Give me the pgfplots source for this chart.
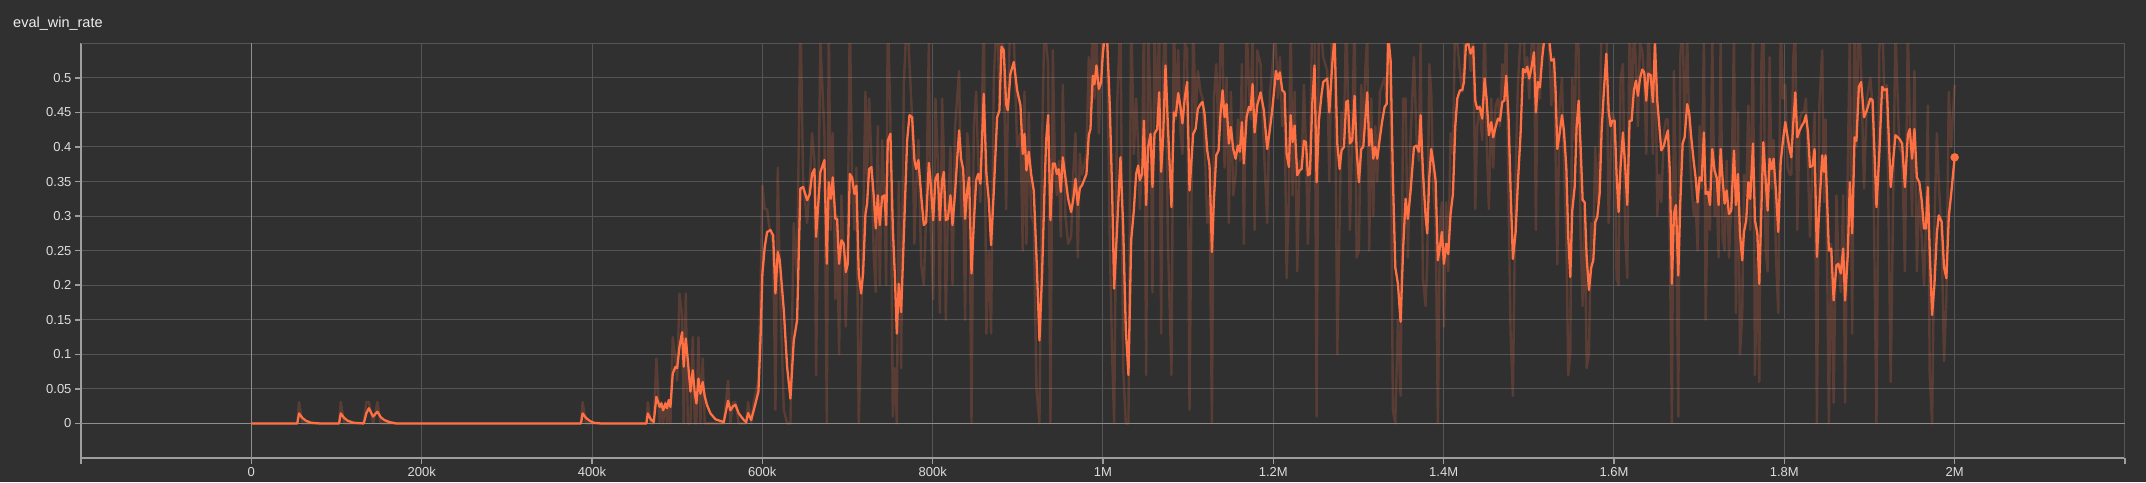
\documentclass[border=0pt]{standalone}
\usepackage{fontspec}
\setmainfont{Liberation Sans}
\usepackage{pgfplots}
\usepackage{pgfplotstable}
\pgfplotsset{compat=1.18}
\definecolor{bgc}{HTML}{303030}
\definecolor{gridc}{HTML}{555555}
\definecolor{axc}{HTML}{9E9E9E}
\definecolor{zeroc}{HTML}{8E8E8E}
\definecolor{orng}{HTML}{FF7043}
\definecolor{tickc}{HTML}{DDDDDD}
\definecolor{titlec}{HTML}{EEEEEE}

\pgfplotstableread{
x s r
0 0 0
54 0 0
56 0.0145 0.031
60 0.008 0
64 0.004 0
70 0.001 0
80 0 0
103 0 0
105 0.0145 0.031
109 0.008 0
113 0.004 0
120 0.001 0
132 0 0
135 0.0145 0.031
138 0.022 0.031
143 0.010 0
148 0.017 0.031
152 0.009 0
156 0.005 0
162 0.002 0
170 0 0
387 0 0
389 0.0145 0.031
393 0.008 0
397 0.004 0
402 0.001 0
410 0 0
463.9 0 0
465.5 0.0145 0.031
469 0.006 0
472.5 0.002 0
475.6 0.0385 0.094
479.5 0.024 0
481.5 0.029 0.031
483.5 0.019 0
486.2 0.029 0.031
488.2 0.022 0
490.1 0.034 0.031
492.1 0.024 0
494.8 0.072 0.125
498.0 0.082 0.094
500.0 0.080 0.062
502.7 0.111 0.188
505.8 0.132 0.156
507.7 0.082 0
510.1 0.123 0.188
512.5 0.0915 0
515.6 0.046 0
518.3 0.077 0.125
520.7 0.043 0
522.6 0.029 0
525.0 0.065 0.125
527.3 0.043 0
530.0 0.060 0.094
532.4 0.039 0
535.2 0.026 0
539.1 0.0145 0
545.0 0.006 0
554.7 0.002 0
559.8 0.033 0.062
562.5 0.019 0
565.7 0.025 0.031
568.4 0.027 0.031
572.3 0.0145 0
578.2 0.005 0
581.0 0.002 0
583.3 0.015 0.031
586.9 0.005 0
589.9 0.019 0.031
595.4 0.046 0.062
597.8 0.120 0.188
600.1 0.217 0.344
602.8 0.255 0.31
605.6 0.277 0.31
608.7 0.279 0.28
609.5 0.280 0.28
612.7 0.272 0.26
615.4 0.188 0.02
618.1 0.248 0.37
620.5 0.236 0.21
625.2 0.164 0.02
629.1 0.082 0
633.0 0.036 0
636.9 0.120 0.29
640.8 0.149 0.21
644.7 0.340 0.60
647.9 0.342 0.35
652.6 0.323 0.29
655.7 0.332 0.35
658.4 0.361 0.42
661.2 0.368 0.38
663.1 0.270 0.07
668.2 0.364 0.55
672.9 0.381 0.42
675.7 0.231 0
678.0 0.349 0.58
680.4 0.325 0.28
682.7 0.356 0.42
685.8 0.296 0.18
687.8 0.296 0.30
690.1 0.231 0.10
692.9 0.265 0.33
695.6 0.260 0.25
698.0 0.219 0.14
700.3 0.231 0.26
702.7 0.361 0.60
705.4 0.356 0.35
708.2 0.332 0.28
710.5 0.344 0.37
713.2 0.217 0
716.0 0.188 0.13
718.3 0.217 0.28
721.1 0.303 0.48
723.0 0.318 0.35
725.4 0.368 0.47
728.1 0.371 0.38
730.9 0.328 0.24
733.2 0.282 0.19
735.6 0.330 0.43
737.9 0.287 0.20
740.7 0.328 0.41
743.4 0.330 0.33
745.4 0.287 0.20
747.3 0.409 0.60
750.4 0.419 0.44
753.2 0.284 0.01
755.5 0.217 0.08
757.9 0.130 0
760.2 0.202 0.35
763.0 0.161 0.08
766.1 0.270 0.49
770.0 0.409 0.60
772.8 0.446 0.52
775.9 0.443 0.44
778.6 0.381 0.26
780.6 0.368 0.34
783.3 0.381 0.41
786.5 0.330 0.23
789.6 0.287 0.20
792.3 0.291 0.30
795.5 0.377 0.55
797.4 0.352 0.30
800.6 0.294 0.18
803.3 0.354 0.47
806.0 0.361 0.38
808.4 0.294 0.16
811.1 0.352 0.47
813.1 0.364 0.39
815.4 0.294 0.15
817.8 0.296 0.30
820.9 0.330 0.40
823.3 0.287 0.20
826.4 0.335 0.43
828.7 0.381 0.47
831.1 0.424 0.51
833.4 0.383 0.30
835.8 0.368 0.34
838.1 0.296 0.15
840.5 0.337 0.42
842.8 0.356 0.39
845.6 0.217 0
848.3 0.289 0.43
851.1 0.352 0.48
853.4 0.361 0.38
856.1 0.347 0.32
860.0 0.477 0.60
863.1 0.361 0.13
865.9 0.323 0.25
868.6 0.258 0.13
871.8 0.337 0.50
875.7 0.443 0.60
878.4 0.453 0.47
880.8 0.545 0.60
883.5 0.540 0.53
886.2 0.462 0.31
888.2 0.453 0.44
891.3 0.506 0.60
895.3 0.523 0.56
899.2 0.482 0.40
903.1 0.460 0.42
905.8 0.390 0.25
907.8 0.419 0.48
910.1 0.366 0.26
912.9 0.393 0.45
915.6 0.361 0.30
918.7 0.337 0.29
921.9 0.241 0.05
925.4 0.120 0
928.5 0.217 0.41
931.3 0.337 0.58
933.2 0.409 0.55
935.6 0.446 0.52
938.3 0.294 0
941.1 0.376 0.54
943.4 0.376 0.38
945.8 0.361 0.33
948.1 0.368 0.38
950.5 0.335 0.27
952.8 0.385 0.49
955.9 0.356 0.30
959.1 0.325 0.26
962.6 0.306 0.27
965.0 0.323 0.36
967.7 0.354 0.42
970.4 0.316 0.24
972.8 0.340 0.39
975.5 0.345 0.36
980.6 0.361 0.39
983.3 0.417 0.53
985.3 0.426 0.44
988.0 0.503 0.60
990.0 0.491 0.47
992.3 0.518 0.57
995.1 0.484 0.42
997.8 0.494 0.51
999.8 0.535 0.60
1002.1 0.560 0.60
1004.9 0.555 0.55
1008.0 0.458 0.26
1010.7 0.337 0.10
1013.1 0.195 0
1016.6 0.284 0.46
1020.5 0.385 0.59
1023.7 0.284 0.08
1026.8 0.135 0
1029.9 0.070 0
1033.1 0.265 0.60
1036.2 0.308 0.39
1038.9 0.361 0.47
1041.3 0.373 0.40
1043.2 0.352 0.31
1046.0 0.361 0.38
1048.0 0.438 0.59
1050.7 0.316 0.07
1053.0 0.400 0.57
1055.8 0.419 0.46
1058.1 0.342 0.19
1060.5 0.419 0.57
1063.6 0.426 0.44
1066.0 0.479 0.59
1068.3 0.364 0.13
1070.6 0.414 0.51
1073.4 0.518 0.60
1076.1 0.434 0.27
1080.4 0.313 0.07
1083.2 0.450 0.60
1085.5 0.445 0.44
1088.3 0.478 0.54
1091.0 0.458 0.42
1093.3 0.434 0.39
1096.1 0.472 0.55
1098.8 0.494 0.54
1101.6 0.337 0.02
1105.9 0.419 0.59
1108.7 0.426 0.44
1111.4 0.455 0.51
1114.5 0.462 0.48
1116.9 0.465 0.47
1119.2 0.448 0.41
1122.4 0.395 0.29
1125.1 0.373 0.33
1127.9 0.248 0
1130.2 0.323 0.47
1133.0 0.388 0.52
1135.7 0.395 0.41
1138.0 0.448 0.55
1140.4 0.482 0.55
1142.7 0.443 0.37
1145.1 0.462 0.50
1147.8 0.405 0.29
1150.2 0.429 0.48
1152.9 0.397 0.33
1155.7 0.383 0.36
1158.4 0.402 0.44
1160.7 0.393 0.38
1163.1 0.436 0.52
1165.4 0.376 0.26
1168.6 0.443 0.58
1171.3 0.458 0.49
1173.3 0.453 0.44
1175.6 0.491 0.57
1178.0 0.421 0.28
1181.1 0.460 0.54
1185.0 0.479 0.52
1188.9 0.453 0.40
1192.8 0.397 0.29
1196.0 0.426 0.48
1198.7 0.453 0.51
1201.5 0.489 0.56
1203.0 0.510 0.55
1205.4 0.498 0.47
1207.7 0.508 0.53
1210.5 0.482 0.43
1213.2 0.479 0.47
1215.6 0.390 0.21
1218.3 0.371 0.33
1220.3 0.446 0.60
1222.6 0.407 0.33
1225.0 0.431 0.48
1228.1 0.359 0.22
1230.8 0.366 0.38
1233.2 0.368 0.37
1235.9 0.409 0.49
1238.3 0.407 0.40
1240.6 0.359 0.26
1243.0 0.361 0.37
1245.7 0.462 0.60
1248.4 0.518 0.60
1250.8 0.349 0.01
1253.5 0.438 0.60
1256.7 0.477 0.56
1258.6 0.494 0.53
1263.3 0.499 0.51
1265.7 0.450 0.35
1269.2 0.520 0.60
1271.9 0.560 0.60
1275.1 0.405 0.10
1277.8 0.368 0.29
1280.1 0.395 0.45
1282.9 0.400 0.41
1285.6 0.465 0.60
1287.6 0.467 0.47
1289.9 0.405 0.28
1292.7 0.410 0.42
1295.4 0.474 0.60
1297.8 0.397 0.24
1300.5 0.349 0.25
1303.2 0.397 0.49
1305.6 0.400 0.41
1307.9 0.438 0.51
1310.3 0.479 0.56
1312.6 0.402 0.25
1315.0 0.426 0.47
1317.3 0.383 0.30
1319.7 0.400 0.43
1322.0 0.383 0.35
1325.2 0.414 0.48
1327.9 0.438 0.49
1330.7 0.458 0.50
1333.0 0.462 0.47
1335.0 0.560 0.60
1337.7 0.525 0.46
1340.4 0.356 0.02
1343.2 0.226 0
1346.3 0.202 0.15
1349.4 0.147 0.04
1352.5 0.255 0.47
1355.3 0.325 0.47
1358.0 0.296 0.24
1361.1 0.335 0.41
1365.1 0.400 0.53
1368.2 0.402 0.41
1370.9 0.393 0.38
1372.9 0.446 0.55
1375.6 0.366 0.21
1378.8 0.299 0.17
1380.7 0.275 0.23
1383.1 0.356 0.52
1385.4 0.397 0.48
1387.8 0.378 0.34
1390.5 0.352 0.30
1393.2 0.236 0
1395.6 0.255 0.29
1397.9 0.277 0.32
1400.3 0.231 0.14
1403.0 0.260 0.32
1405.4 0.245 0.22
1408.1 0.303 0.42
1410.9 0.332 0.39
1413.6 0.429 0.60
1416.0 0.470 0.55
1419.1 0.482 0.51
1421.8 0.482 0.48
1423.8 0.494 0.52
1426.1 0.547 0.60
1428.9 0.550 0.56
1431.6 0.535 0.51
1434.7 0.545 0.57
1437.1 0.467 0.31
1439.4 0.455 0.43
1442.2 0.458 0.46
1445.3 0.441 0.41
1448.1 0.499 0.60
1450.4 0.470 0.41
1453.1 0.417 0.31
1455.9 0.436 0.47
1458.2 0.414 0.37
1461.0 0.429 0.46
1463.7 0.441 0.47
1466.1 0.438 0.43
1468.8 0.465 0.52
1471.2 0.467 0.47
1473.5 0.503 0.58
1476.2 0.443 0.32
1478.6 0.337 0.13
1481.3 0.238 0.04
1484.5 0.277 0.36
1487.2 0.349 0.49
1490.3 0.419 0.56
1493.1 0.513 0.60
1495.8 0.508 0.50
1498.2 0.516 0.53
1500.5 0.499 0.47
1502.9 0.513 0.54
1506.0 0.537 0.59
1508.3 0.450 0.28
1510.7 0.494 0.58
1513.0 0.486 0.47
1515.8 0.530 0.60
1518.5 0.560 0.60
1520.9 0.560 0.56
1523.6 0.560 0.56
1526.4 0.525 0.46
1529.5 0.527 0.53
1531.4 0.482 0.39
1533.4 0.397 0.23
1536.1 0.419 0.46
1538.9 0.446 0.50
1541.2 0.424 0.38
1544.0 0.371 0.27
1546.3 0.270 0.07
1548.7 0.212 0.10
1551.0 0.308 0.50
1553.8 0.342 0.41
1556.1 0.429 0.60
1558.5 0.467 0.54
1560.8 0.400 0.27
1563.2 0.323 0.17
1565.5 0.320 0.31
1567.9 0.241 0.08
1570.6 0.193 0.10
1573.3 0.226 0.29
1575.7 0.236 0.26
1578.0 0.291 0.40
1580.4 0.299 0.32
1583.1 0.332 0.40
1585.5 0.424 0.60
1588.2 0.482 0.60
1591.0 0.535 0.60
1593.7 0.453 0.29
1596.0 0.430 0.38
1598.0 0.438 0.45
1600.7 0.438 0.44
1603.0 0.361 0.21
1605.4 0.306 0.20
1607.7 0.371 0.50
1610.5 0.421 0.52
1613.2 0.371 0.27
1615.6 0.316 0.21
1618.3 0.438 0.60
1620.7 0.438 0.44
1623.4 0.482 0.57
1625.8 0.496 0.52
1628.1 0.474 0.43
1630.5 0.499 0.55
1633.2 0.512 0.54
1635.5 0.508 0.50
1637.9 0.467 0.39
1640.2 0.506 0.58
1643.0 0.504 0.50
1645.7 0.465 0.39
1648.1 0.549 0.60
1650.8 0.467 0.30
1653.2 0.431 0.36
1655.5 0.395 0.32
1658.6 0.402 0.42
1661.0 0.414 0.44
1663.3 0.424 0.44
1665.7 0.361 0.24
1668.0 0.202 0
1670.4 0.303 0.51
1672.7 0.316 0.34
1675.5 0.214 0.01
1677.8 0.318 0.53
1680.6 0.405 0.58
1682.9 0.414 0.43
1686.0 0.462 0.56
1688.4 0.448 0.42
1690.7 0.414 0.35
1693.9 0.376 0.30
1695.8 0.356 0.32
1698.2 0.320 0.25
1700.5 0.356 0.43
1702.9 0.351 0.34
1705.6 0.421 0.56
1707.6 0.332 0.15
1710.3 0.335 0.34
1712.7 0.316 0.28
1715.4 0.397 0.56
1718.1 0.366 0.30
1720.5 0.356 0.34
1722.8 0.316 0.24
1725.2 0.397 0.56
1727.5 0.354 0.27
1729.9 0.318 0.25
1732.2 0.337 0.38
1735.0 0.303 0.24
1737.7 0.308 0.32
1740.9 0.395 0.57
1743.2 0.316 0.16
1745.6 0.361 0.45
1747.9 0.275 0.10
1750.6 0.236 0.16
1752.6 0.277 0.36
1755.3 0.294 0.33
1757.7 0.349 0.46
1760.0 0.325 0.28
1763.2 0.405 0.57
1765.5 0.294 0.07
1768.3 0.275 0.24
1770.6 0.202 0.06
1773.0 0.308 0.52
1775.3 0.407 0.60
1778.0 0.354 0.25
1780.4 0.308 0.22
1782.7 0.383 0.53
1785.1 0.368 0.34
1787.4 0.383 0.41
1790.2 0.335 0.24
1792.9 0.277 0.16
1795.7 0.378 0.58
1798.4 0.409 0.47
1801.1 0.436 0.49
1803.9 0.414 0.37
1806.2 0.397 0.36
1808.2 0.385 0.36
1810.5 0.434 0.53
1812.9 0.479 0.57
1815.2 0.414 0.28
1818.0 0.424 0.44
1820.7 0.431 0.45
1823.1 0.436 0.45
1825.4 0.446 0.47
1827.8 0.421 0.37
1830.1 0.371 0.27
1833.2 0.373 0.38
1835.5 0.397 0.45
1838.3 0.241 0
1841.1 0.313 0.46
1844.5 0.388 0.54
1846.6 0.364 0.32
1848.4 0.388 0.44
1852.3 0.250 0
1855.1 0.253 0.26
1857.9 0.178 0.03
1861.2 0.229 0.33
1863.4 0.231 0.24
1866.3 0.217 0.19
1869.1 0.253 0.33
1871.3 0.178 0.03
1874.6 0.246 0.38
1876.9 0.349 0.56
1879.7 0.275 0.13
1882.5 0.414 0.60
1884.7 0.409 0.40
1887.5 0.487 0.60
1890.2 0.494 0.51
1893.6 0.443 0.34
1896.9 0.453 0.47
1900.9 0.470 0.50
1903.6 0.468 0.46
1908.2 0.313 0
1911.5 0.390 0.54
1914.8 0.487 0.60
1917.5 0.482 0.47
1920.4 0.484 0.49
1924.9 0.342 0.06
1930.5 0.417 0.57
1935.0 0.412 0.40
1938.3 0.405 0.39
1941.6 0.342 0.22
1945.0 0.417 0.57
1947.3 0.426 0.44
1950.0 0.383 0.30
1952.8 0.426 0.51
1955.6 0.356 0.22
1958.5 0.349 0.34
1961.3 0.323 0.27
1964.0 0.282 0.20
1966.2 0.282 0.28
1968.5 0.342 0.46
1970.7 0.250 0.07
1973.5 0.157 0
1976.3 0.202 0.29
1979.1 0.275 0.42
1981.3 0.301 0.35
1984.7 0.292 0.27
1987.5 0.226 0.09
1990.3 0.210 0.18
1993.1 0.299 0.48
1995.9 0.332 0.40
2000.0 0.385 0.49
}\wr

\begin{document}
\begin{tikzpicture}
\fill[bgc] (0,0) rectangle (2146pt,482pt);
\node[anchor=base west, text=titlec, font=\fontsize{14.5pt}{16pt}\selectfont, inner sep=0pt] at (13pt,454pt) {eval\_win\_rate};
\begin{axis}[
  at={(81pt,24pt)}, anchor=south west,
  scale only axis, width=2044pt, height=414.7pt,
  xmin=-200, xmax=2200, ymin=-0.05, ymax=0.55,
  axis x line=bottom, axis y line=left,
  axis line style={-, draw=axc, line width=2pt},
  xtick={0,200,400,600,800,1000,1200,1400,1600,1800,2000},
  xticklabels={0,200k,400k,600k,800k,1M,1.2M,1.4M,1.6M,1.8M,2M},
  extra x ticks={-200,2200}, extra x tick labels={},
  extra x tick style={grid=none},
  ytick={0,0.05,0.1,0.15,0.2,0.25,0.3,0.35,0.4,0.45,0.5},
  yticklabels={0,0.05,0.1,0.15,0.2,0.25,0.3,0.35,0.4,0.45,0.5},
  grid=major, major grid style={draw=gridc, line width=1pt},
  tick align=outside, major tick length=6pt,
  tick style={draw=axc, line width=1.5pt},
  ticklabel style={text=tickc, font=\fontsize{13pt}{13pt}\selectfont},
  clip=true,
]
\draw[gridc, line width=1pt] (rel axis cs:0,1) -- (rel axis cs:1,1) -- (rel axis cs:1,0);
\addplot[zeroc, line width=1.5pt] coordinates {(0,-0.05) (0,0.55)};
\addplot[zeroc, line width=1.5pt] coordinates {(-200,0) (2200,0)};
\addplot[orng, opacity=0.2, line width=2.4pt, line join=round] table[x=x, y=r] {\wr};
\addplot[orng, line width=2.3pt, line join=round] table[x=x, y=s] {\wr};
\addplot[orng, only marks, mark=*, mark size=4pt] coordinates {(2000,0.385)};
\end{axis}
\pgfresetboundingbox
\path[use as bounding box] (0,0) rectangle (2146pt,482pt);
\end{tikzpicture}
\end{document}
